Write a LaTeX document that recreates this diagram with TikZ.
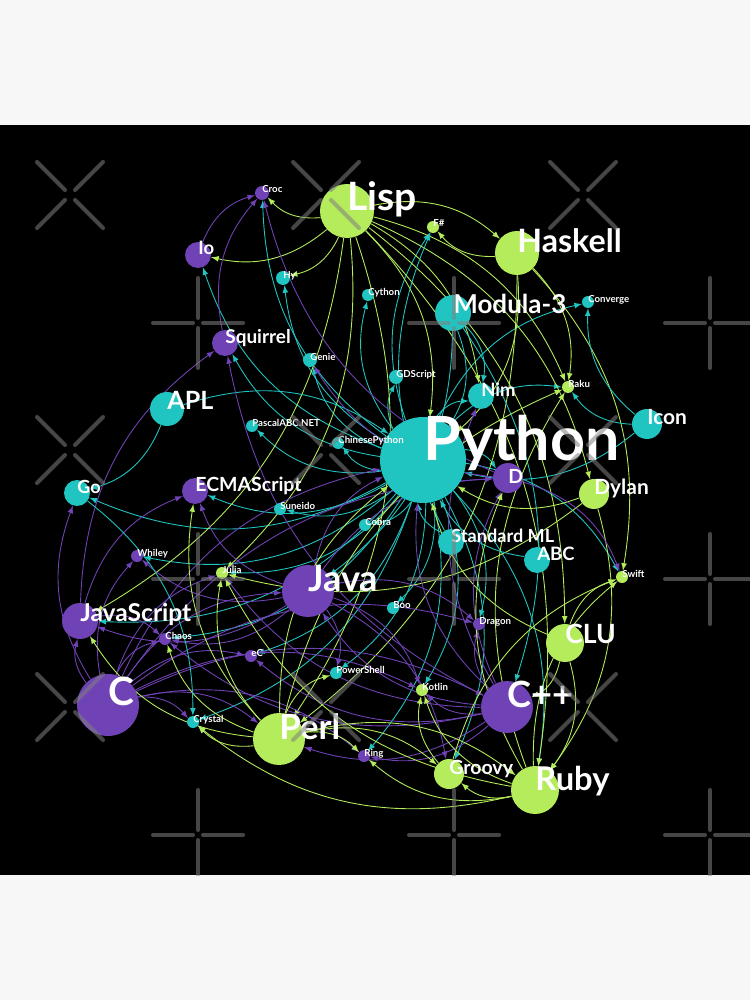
\documentclass[tikz,border=0pt]{standalone}
\usepackage{fontspec}
\setmainfont{Lato}
\usepackage{tikz}
\usetikzlibrary{arrows}
\pgfdeclarelayer{back}
\pgfdeclarelayer{front}
\pgfsetlayers{back,main,front}
\definecolor{tealc}{RGB}{32,196,192}
\definecolor{purp}{RGB}{111,66,181}
\definecolor{lime}{RGB}{180,236,92}
\definecolor{paper}{RGB}{247,247,247}
\tikzset{%
	lang/.style   = {circle, inner sep=0pt, minimum size=#1*0.04cm},
	tl/.style     = {lang=#1, fill=tealc},
	pu/.style     = {lang=#1, fill=purp},
	gr/.style     = {lang=#1, fill=lime},
	lbl/.style    = {anchor=base west, inner sep=0pt, text=white, font=\bfseries\fontsize{#1}{#1}\selectfont},
	minor/.style  = {lbl=5.5},
	infl/.style   = {-latex, line width=0.5pt, bend left=26},
	tarrow/.style = {infl, color=tealc},
	parrow/.style = {infl, color=purp},
	garrow/.style = {infl, color=lime},
	wmark/.style  = {line width=2.3pt, line cap=round, color=gray, opacity=0.55},
}
\begin{document}
\begin{tikzpicture}[x=0.02cm, y=-0.02cm]
	\useasboundingbox (0,0) rectangle (750,1000);
	% languages
	\node[tl=43] (python) at (423,460) {};
	\node[gr=27] (lisp) at (347,211) {};
	\node[gr=22] (haskell) at (517,253) {};
	\node[gr=6] (fsharp) at (433,227) {};
	\node[pu=7] (croc) at (262,193) {};
	\node[pu=13] (io) at (198,255) {};
	\node[tl=7] (hy) at (283,278) {};
	\node[tl=6] (cython) at (368,295) {};
	\node[tl=18] (modula) at (453,313) {};
	\node[tl=6] (converge) at (588,302) {};
	\node[pu=13] (squirrel) at (225,343) {};
	\node[tl=7] (genie) at (310,360) {};
	\node[tl=7] (gdscript) at (396,377) {};
	\node[tl=13] (nim) at (481,396) {};
	\node[gr=6] (raku) at (568,387) {};
	\node[tl=17] (apl) at (167,409) {};
	\node[tl=6] (pascal) at (252,426) {};
	\node[tl=6] (chinese) at (338,443) {};
	\node[tl=15] (icon) at (647,424) {};
	\node[tl=13] (go) at (77,493) {};
	\node[pu=13] (ecma) at (195,491) {};
	\node[tl=6] (suneido) at (280,509) {};
	\node[pu=15] (d) at (508,478) {};
	\node[gr=15] (dylan) at (594,494) {};
	\node[tl=6] (cobra) at (365,525) {};
	\node[tl=13] (sml) at (451,542) {};
	\node[tl=13] (abc) at (537,560) {};
	\node[pu=6] (whiley) at (137,556) {};
	\node[gr=6] (julia) at (222,573) {};
	\node[pu=26] (java) at (308,591) {};
	\node[gr=6] (swift) at (622,577) {};
	\node[pu=18] (js) at (80,621) {};
	\node[tl=6] (boo) at (393,608) {};
	\node[pu=6] (dragon) at (479,624) {};
	\node[gr=19] (clu) at (565,643) {};
	\node[pu=6] (chaos) at (165,639) {};
	\node[pu=6] (ec) at (251,656) {};
	\node[tl=6] (powershell) at (336,673) {};
	\node[gr=6] (kotlin) at (422,690) {};
	\node[pu=31] (c) at (108,705) {};
	\node[pu=26] (cpp) at (507,707) {};
	\node[tl=6] (crystal) at (193,722) {};
	\node[gr=26] (perl) at (279,739) {};
	\node[pu=6] (ring) at (364,756) {};
	\node[gr=15] (groovy) at (449,774) {};
	\node[gr=24] (ruby) at (535,790) {};
	% influences
	\begin{pgfonlayer}{back}
	\fill[paper] (0,0) rectangle (750,1000);
	\fill[black] (0,125) rectangle (750,875);
	\foreach \t in {croc,io,hy,cython,gdscript,genie,squirrel,pascal,chinese,go,ecma,suneido,cobra,whiley,julia,js,chaos,boo,ec,powershell,crystal,ring,kotlin,groovy,ruby,dragon,swift,d,nim,raku,converge,fsharp}
		\draw[tarrow] (python) to (\t);
	\foreach \t in {python,haskell,croc,io,hy,dylan,ruby,perl,raku,julia,clu,nim,js}
		\draw[garrow] (lisp) to (\t);
	\foreach \t in {python,fsharp,raku,swift,perl}
		\draw[garrow] (haskell) to (\t);
	\foreach \t in {python,nim,java,cpp}
		\draw[tarrow] (modula) to (\t);
	\foreach \t in {python,converge,raku}
		\draw[tarrow] (icon) to (\t);
	\foreach \t in {python,go}
		\draw[tarrow] (apl) to (\t);
	\foreach \t in {python,ruby,julia}
		\draw[garrow] (dylan) to (\t);
	\draw[tarrow] (abc) to (python);
	\foreach \t in {python,fsharp}
		\draw[tarrow] (sml) to (\t);
	\foreach \t in {python,ruby,cpp,swift}
		\draw[garrow] (clu) to (\t);
	\foreach \t in {python,java,d,nim,perl,julia,squirrel,kotlin,chaos,ec,dragon,ring}
		\draw[parrow] (cpp) to (\t);
	\foreach \t in {python,java,cpp,js,go,perl,d,julia,chaos,whiley,ec,crystal,ring,kotlin,dragon}
		\draw[parrow] (c) to (\t);
	\foreach \t in {python,js,ecma,groovy,kotlin,d,dragon,powershell,whiley,chaos}
		\draw[parrow] (java) to (\t);
	\foreach \t in {python,ruby,js,ecma,julia,raku,powershell,groovy,crystal,chaos,ring}
		\draw[garrow] (perl) to (\t);
	\foreach \t in {crystal,groovy,swift,julia,kotlin,d,ring,raku}
		\draw[garrow] (ruby) to (\t);
	\foreach \t in {kotlin,swift}
		\draw[garrow] (groovy) to (\t);
	\foreach \t in {croc,genie,swift}
		\draw[parrow] (d) to (\t);
	\foreach \t in {squirrel,chaos,ecma}
		\draw[parrow] (js) to (\t);
	\draw[parrow] (io) to (croc);
	\draw[parrow] (squirrel) to (croc);
	\draw[tarrow] (go) to (crystal);
	\end{pgfonlayer}
	% names
	\begin{pgfonlayer}{front}
	\node[lbl=34.7, text depth=0pt] (python-l) at (python.center) {Python};
	\node[lbl=22.2] (lisp-l) at (lisp.center) {Lisp};
	\node[lbl=18.3] (haskell-l) at (haskell.center) {Haskell};
	\node[minor] (fsharp-l) at (fsharp.center) {F\#};
	\node[minor] (croc-l) at (croc.center) {Croc};
	\node[lbl=10.5] (io-l) at (io.center) {Io};
	\node[minor] (hy-l) at (hy.center) {Hy};
	\node[minor] (cython-l) at (cython.center) {Cython};
	\node[lbl=14.8] (modula-l) at (modula.center) {Modula-3};
	\node[minor] (converge-l) at (converge.center) {Converge};
	\node[lbl=10.8] (squirrel-l) at (squirrel.center) {Squirrel};
	\node[minor] (genie-l) at (genie.center) {Genie};
	\node[minor] (gdscript-l) at (gdscript.center) {GDScript};
	\node[lbl=10.5] (nim-l) at (nim.center) {Nim};
	\node[minor] (raku-l) at (raku.center) {Raku};
	\node[lbl=14.3] (apl-l) at (apl.center) {APL};
	\node[minor] (pascal-l) at (pascal.center) {PascalABC.NET};
	\node[minor] (chinese-l) at (chinese.center) {ChinesePython};
	\node[lbl=11.9] (icon-l) at (icon.center) {Icon};
	\node[lbl=10.3] (go-l) at (go.center) {Go};
	\node[lbl=11.1] (ecma-l) at (ecma.center) {ECMAScript};
	\node[minor] (suneido-l) at (suneido.center) {Suneido};
	\node[lbl=11.1] (d-l) at ([yshift=-0.1cm]d.center) {D};
	\node[lbl=11.9] (dylan-l) at (dylan.center) {Dylan};
	\node[minor] (cobra-l) at (cobra.center) {Cobra};
	\node[lbl=10.3] (sml-l) at (sml.center) {Standard ML};
	\node[lbl=10.5] (abc-l) at (abc.center) {ABC};
	\node[minor] (whiley-l) at (whiley.center) {Whiley};
	\node[minor] (julia-l) at (julia.center) {Julia};
	\node[lbl=20.6] (java-l) at (java.center) {Java};
	\node[minor] (swift-l) at (swift.center) {Swift};
	\node[lbl=14] (js-l) at (js.center) {JavaScript};
	\node[minor] (boo-l) at (boo.center) {Boo};
	\node[minor] (dragon-l) at (dragon.center) {Dragon};
	\node[lbl=15.1] (clu-l) at (clu.center) {CLU};
	\node[minor] (chaos-l) at (chaos.center) {Chaos};
	\node[minor] (ec-l) at (ec.center) {eC};
	\node[minor] (powershell-l) at (powershell.center) {PowerShell};
	\node[minor] (kotlin-l) at (kotlin.center) {Kotlin};
	\node[lbl=22.2] (c-l) at (c.center) {C};
	\node[lbl=20.6] (cpp-l) at (cpp.center) {C++};
	\node[minor] (crystal-l) at (crystal.center) {Crystal};
	\node[lbl=19.8] (perl-l) at (perl.center) {Perl};
	\node[minor] (ring-l) at (ring.center) {Ring};
	\node[lbl=11.1] (groovy-l) at (groovy.center) {Groovy};
	\node[lbl=18.6] (ruby-l) at (ruby.center) {Ruby};
	% marks
	\begin{scope}
		\clip (0,125) rectangle (750,875);
		\foreach \x/\y in {70/195,326/195,583/195,70/450,326/450,583/450,70/707,326/707,583/707}
			\draw[wmark, shift={(\x,\y)}] (-33,-33) -- (-5,-5) (5,5) -- (33,33) (-33,33) -- (-5,5) (5,-5) -- (33,-33);
		\foreach \x/\y in {198/323,454/323,710/323,198/579,454/579,710/579,198/835,454/835,710/835}
			\draw[wmark, shift={(\x,\y)}] (0,-45) -- (0,-5) (0,5) -- (0,45) (-45,0) -- (-5,0) (5,0) -- (45,0);
	\end{scope}
	\end{pgfonlayer}
\end{tikzpicture}
\end{document}
